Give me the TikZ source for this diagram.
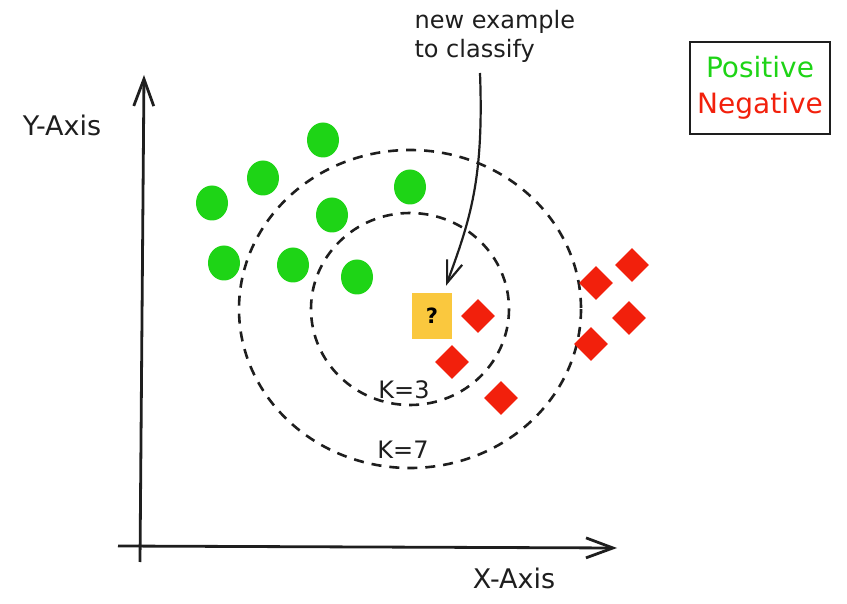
\documentclass[tikz,border=0pt]{standalone}
\usepackage{fontspec}
\setmainfont{DejaVu Sans}
\usepackage{tikz}
\usetikzlibrary{arrows.meta}
\usetikzlibrary{shapes.geometric}
\definecolor{posgreen}{RGB}{30,212,22}
\definecolor{negred}{RGB}{242,32,12}
\definecolor{queryyellow}{RGB}{250,200,62}
\definecolor{inkblack}{RGB}{30,30,30}
\tikzset{posdot/.style={ellipse, fill=posgreen, inner sep=0pt, minimum width=32pt, minimum height=35pt},
	negdot/.style={diamond, fill=negred, inner sep=0pt, minimum size=34pt},
	query/.style={rectangle, fill=queryyellow, minimum width=40pt, minimum height=46pt, font=\bfseries\fontsize{21}{25}\selectfont},
	ring/.style={draw=inkblack, line width=2.6pt, dash pattern=on 10pt off 8pt},
	axisline/.style={draw=inkblack, line width=2.8pt, -{Straight Barb[length=27pt,width=20pt]}},
	lbl/.style={text=inkblack, font=\fontsize{24}{29}\selectfont}
}

\begin{document}
\begin{tikzpicture}[x=1pt, y=-1pt]
	\useasboundingbox (0,0) rectangle (847,604);
	% axes
	\coordinate (ybottom) at (140,562);
	\coordinate (ytop) at (144,75);
	\coordinate (xleft) at (118,546);
	\coordinate (xright) at (617,548);
	\draw[axisline] (ybottom) -- (ytop);
	\draw[axisline] (xleft) -- (xright);
	\node[lbl, font=\fontsize{27}{32}\selectfont] (ylabel) at (62,125) {Y-Axis};
	\node[lbl, font=\fontsize{27}{32}\selectfont] (xlabel) at (514,578) {X-Axis};
	% neighbourhoods
	\coordinate (center) at (410,309);
	\draw[ring] (center) ellipse [x radius=99, y radius=96];
	\draw[ring] (center) ellipse [x radius=171, y radius=159];
	\node[lbl] (k3) at (404,390) {K=3};
	\node[lbl] (k7) at (403,450) {K=7};
	% positive examples
	\foreach \x/\y [count=\i] in {212/203, 263/178, 323/140, 410/187, 332/215, 224/263, 293/265, 357/277}
		\node[posdot] (p\i) at (\x,\y) {};
	% negative examples
	\foreach \x/\y [count=\i] in {478/316, 452/362, 501/398, 596/283, 632/265, 629/318, 591/344}
		\node[negdot] (n\i) at (\x,\y) {};
	% new example
	\node[query] (qbox) at (432,316) {?};
	\node[lbl, anchor=west, align=left] (note) at (411,36) {new example\\to classify};
	\coordinate (notefoot) at (480,73);
	\draw[inkblack, line width=2.2pt, -{Straight Barb[length=22pt,width=16pt]}] (notefoot) .. controls (484,180) and (470,220) .. ([xshift=14pt,yshift=7pt]qbox.north);
	% legend
	\node[draw=inkblack, line width=2.2pt, minimum width=140pt, minimum height=92pt, align=center, font=\fontsize{28}{36}\selectfont] (legend) at (760,88) {\textcolor{posgreen}{Positive}\\\textcolor{negred}{Negative}};
\end{tikzpicture}
\end{document}
